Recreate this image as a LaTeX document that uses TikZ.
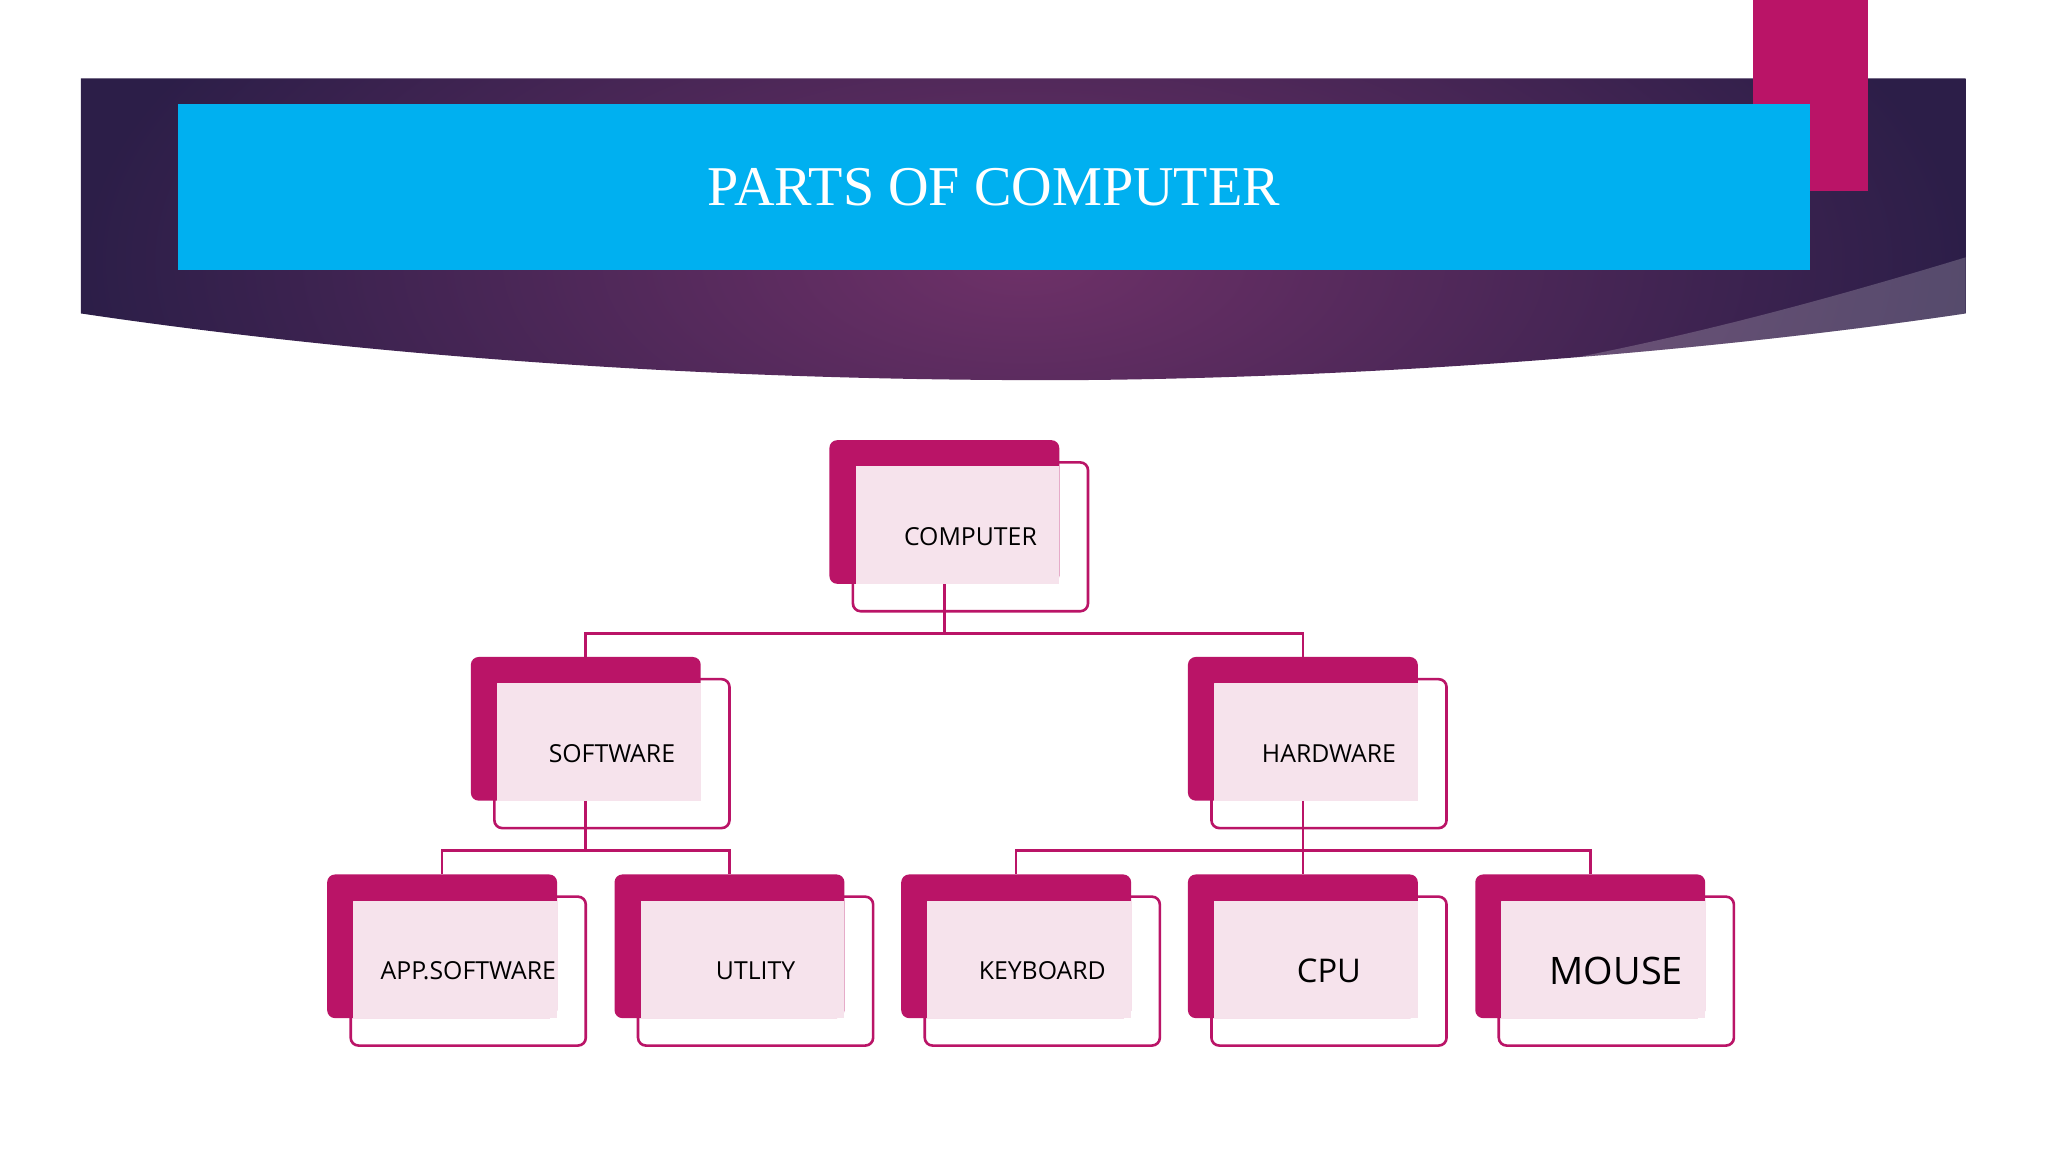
\documentclass[tikz,border=0pt]{standalone}
\usepackage{fontspec}
\setmainfont{Open Sans}
\newfontfamily\titlefont{Liberation Serif}
\usetikzlibrary{calc}
\definecolor{mag}{HTML}{BA1467}
\definecolor{pinkfill}{HTML}{F6E3EC}
\definecolor{cyanbar}{HTML}{00B0F0}
\definecolor{bandout}{HTML}{2C1E48}
\definecolor{bandin}{HTML}{6E3168}
\begin{document}
\begin{tikzpicture}[x=1pt,y=-1pt,
  back/.style={fill=mag,rounded corners=6pt,minimum width=176pt,minimum height=110pt,inner sep=0pt},
  face/.style={fill=pinkfill,minimum width=156pt,minimum height=90pt,inner sep=0pt},
  frame/.style={draw=mag,line width=2pt,rounded corners=6pt,minimum width=180pt,minimum height=114pt,inner sep=0pt},
  link/.style={draw=mag,line width=2pt}]
\useasboundingbox (0,0) rectangle (1568,882);
\fill[white] (0,0) rectangle (1568,882);

% header band
\begin{scope}
\clip (62,60) -- (1505,60) -- (1505,240) .. controls (1200,285) and (900,292) .. (780,291)
  .. controls (500,290) and (250,268) .. (62,240) -- cycle;
\shade[inner color=bandin,outer color=bandout] (62,-130) rectangle (1505,530);
\fill[white,opacity=0.2] (1505,197) .. controls (1380,235) and (1250,270) .. (1100,292) -- (1505,292) -- cycle;
\end{scope}
\fill[mag] (1342,0) rectangle (1430,146);
\node[fill=cyanbar,minimum width=1250pt,minimum height=127pt,inner sep=0pt,
  text=white,font=\titlefont\fontsize{43}{48}\selectfont] (title) at (761,143.5) {PARTS OF COMPUTER};

% boxes: name, back centre x, back centre y, text, size
\foreach \n/\x/\y/\t/\s in {comp/723/392/COMPUTER/19, soft/448.5/558/SOFTWARE/19,
    hard/997.5/558/HARDWARE/19, app/338.5/724.5/APP.SOFTWARE/19, util/558.5/724.5/UTLITY/19,
    key/778/724.5/KEYBOARD/19, cpu/997.5/724.5/CPU/25, mouse/1217.5/724.5/MOUSE/29}{
  \node[back] (\n B) at (\x,\y) {};
  \node[face] at (\x+10,\y+10) {};
  \node[frame,font=\fontsize{\s}{\s}\selectfont] (\n) at (\x+20,\y+19) {\t};
}

% connectors
\draw[link] (compB.south) -- ++(0,38) coordinate (c1);
\draw[link] (softB.north) |- (c1) -| (hardB.north);
\draw[link] (softB.south) -- ++(0,38) coordinate (s1);
\draw[link] (appB.north) |- (s1) -| (utilB.north);
\draw[link] (hardB.south) -- ++(0,38) coordinate (h1);
\draw[link] (keyB.north) |- (h1) -| (mouseB.north);
\draw[link] (h1) -- (cpuB.north);
\end{tikzpicture}
\end{document}
